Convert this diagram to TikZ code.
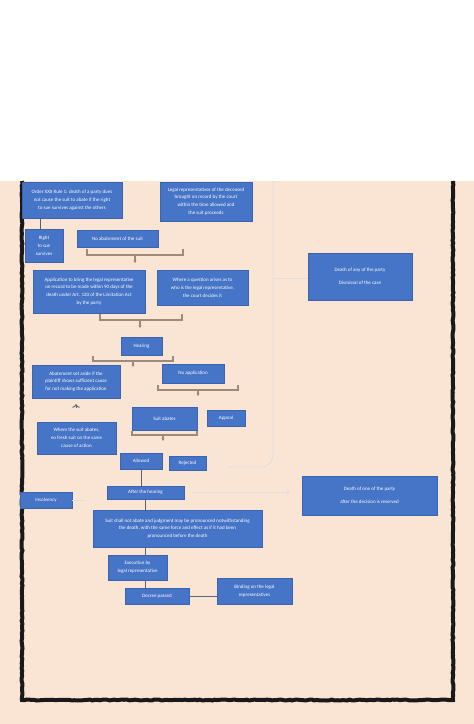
\documentclass[tikz,border=0pt]{standalone}
\usepackage{fontspec}
\setmainfont{Carlito}
\usepackage{tikz}
\usetikzlibrary{arrows.meta}
\usetikzlibrary{decorations.pathmorphing}

\definecolor{paper}{RGB}{250,229,213}
\definecolor{boxblue}{RGB}{70,116,198}
\definecolor{boxedge}{RGB}{58,100,178}
\definecolor{bracecol}{RGB}{158,138,122}
\definecolor{conncol}{RGB}{88,98,118}

\tikzset{
  box/.style={draw=boxedge, line width=0.4pt, fill=boxblue, text=white, align=center,
              inner sep=0pt, font=\fontsize{5}{7.8}\selectfont},
  sz/.style 2 args={minimum width=#1, minimum height=#2},
  brace/.style={draw=bracecol, line width=1.1pt},
  bracetip/.style={draw=bracecol, line width=1.1pt, -{Stealth[length=2.5pt,width=3pt]}},
  conn/.style={draw=conncol, line width=0.9pt},
  faint/.style={draw=black!13, line width=0.7pt},
}

\begin{document}
\begin{tikzpicture}[x=1pt, y=-1pt]
    \useasboundingbox (0, 0) rectangle (474, 724);
    \fill[white] (0, 0) rectangle (474, 181);
    \fill[paper] (0, 181) rectangle (474, 724);

    % faint outline behind the chart
    \draw[faint, rounded corners=12pt] (273, 181) -- (273, 467) -- (228, 467);
    \coordinate (wG) at (273, 278);

    % frame
    \draw[line width=4pt, black!90, decorate, decoration={random steps, segment length=2.5pt, amplitude=0.5pt}]
        (22, 181) -- (22, 700) -- (453, 700) -- (453, 181);

    \node[box, sz={100}{36}] at (72, 200) (rule1) {Order XXII Rule 1: death of a party does\\not cause the suit to abate if the right\\to sue survives against the others};
    \node[box, sz={92}{39}] at (206, 201.5) (lrrec) {Legal representatives of the deceased\\brought on record by the court\\within the time allowed and\\the suit proceeds};
    \node[box, sz={38}{33}] at (44, 245.5) (surv) {Right\\to sue\\survives};
    \node[box, sz={81}{17}] at (117.5, 238.5) (noab) {No abatement of the suit};
    \node[box, sz={112}{43}] at (89, 291.5) (appl) {Application to bring the legal representative\\on record to be made within 90 days of the\\death under Art. 120 of the Limitation Act\\by the party};
    \node[box, sz={91}{35}] at (202.5, 287.5) (quest) {Where a question arises as to\\who is the legal representative,\\the court decides it};
    \node[box, sz={104}{47}] at (360, 276.5) (death) {Death of any of the party\\[5pt]Dismissal of the case};

    \node[box, sz={41}{18}] at (141.5, 346) (hear) {Hearing};
    \node[box, sz={88}{33}] at (76, 381.5) (setas) {Abatement set aside if the\\plaintiff shows sufficient cause\\for not making the application};
    \node[box, sz={62}{19}] at (193, 373.5) (noapp) {No application};
    \node[box, sz={79}{32}] at (76.5, 438) (fresh) {Where the suit abates,\\no fresh suit on the same\\cause of action};
    \node[box, sz={65}{23}] at (164.5, 418.5) (abates) {Suit abates};
    \node[box, sz={38}{16}] at (226, 418) (appeal) {Appeal};
    \node[box, sz={42}{16}] at (141, 461) (allow) {Allowed};
    \node[box, sz={37}{14}] at (187.5, 463) (reject) {Rejected};

    \node[box, sz={52}{16}] at (46, 500) (insol) {Insolvency};
    \node[box, sz={77}{13}] at (145.5, 492.5) (after) {After the hearing};
    \node[box, sz={135}{39}] at (369.5, 495.5) (death2) {Death of one of the party\\[5pt]after the decision is reserved};
    \node[box, sz={169}{37}] at (177.5, 528.5) (judg) {Suit shall not abate and judgment may be pronounced notwithstanding\\the death, with the same force and effect as if it had been\\pronounced before the death};
    \node[box, sz={59}{25}] at (137.5, 567.5) (exec) {Execution by\\legal representative};
    \node[box, sz={64}{16}] at (157, 596) (decree) {Decree passed};
    \node[box, sz={75}{26}] at (254.5, 591) (bind) {Binding on the legal\\representatives};

    % brackets
    \draw[brace] (87, 249) |- (183, 255) -- (183, 249);
    \coordinate (bD) at (135, 255);
    \draw[bracetip] (bD) -- ++(0, 8);
    \draw[brace] (100, 314) |- (182, 320) -- (182, 314);
    \coordinate (bE) at (140, 320);
    \draw[bracetip] (bE) -- ++(0, 8);
    \draw[brace] (93, 356) |- (173, 361) -- (173, 356);
    \coordinate (bH) at (133, 361);
    \draw[bracetip] (bH) -- ++(0, 6);
    \draw[brace] (158, 385) |- (238, 390) -- (238, 385);
    \coordinate (bJ) at (198, 390);
    \draw[bracetip] (bJ) -- ++(0, 6);
    \draw[brace] (132, 431) |- (197, 435) -- (197, 431);
    \coordinate (bL) at (163, 435);
    \draw[bracetip] (bL) -- ++(0, 6);

    % connectors
    \draw[conn] (surv.north -| 40, 0) -- (rule1.south -| 40, 0);
    \draw (fresh.north -| setas.south) edge[conn, ->, shorten <=14pt, shorten >=6pt] (setas.south);
    \draw[conn] (allow.south) -- (after.north -| allow.south);
    \draw[conn] (after.south) -- (judg.north -| after.south);
    \draw[conn] (judg.south -| after.south) -- (exec.north -| after.south);
    \draw[conn] (exec.south -| after.south) -- (decree.north -| after.south);
    \draw[conn] (decree.east) -- (bind.west |- decree.east);
    \draw (after.east) edge[faint, ->, shorten <=8pt, shorten >=12pt] (death2.west |- after.east);
    \draw[faint] (insol.east) -- ++(12, 0);
    \draw[faint] (wG) -- (death.west |- wG);
\end{tikzpicture}
\end{document}
